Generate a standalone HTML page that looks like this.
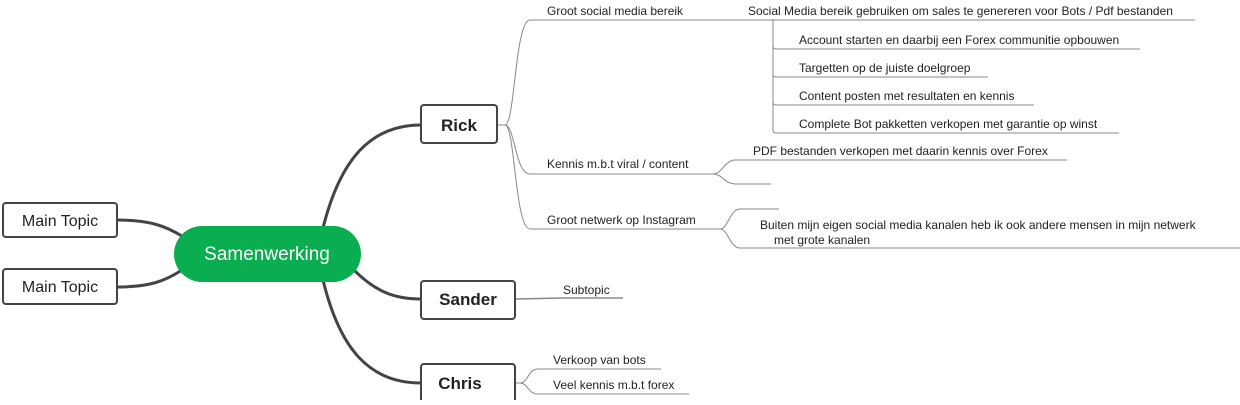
<!DOCTYPE html>
<html><head><meta charset="utf-8"><style>
body{margin:0;width:1240px;height:400px;background:#fff;overflow:hidden;font-family:"Liberation Sans",sans-serif}
</style></head><body>
<svg width="1240" height="400" xmlns="http://www.w3.org/2000/svg" font-family="Liberation Sans, sans-serif">
<g fill="none" stroke="#444" stroke-width="3">
<path d="M323,228 C340,160 370,125 421,125"/>
<path d="M352,268 C375,292 395,299 421,299"/>
<path d="M323,280 C340,350 370,383 421,383"/>
<path d="M117,220 C150,220 165,226 182,236"/>
<path d="M117,287 C150,287 165,281 182,270"/>
</g>
<g fill="none" stroke="#888" stroke-width="1">
<path d="M497,125 L505,125 C515,125 515,20 530,20 L1195,20"/>
<path d="M505,125 C515,125 515,174 530,174 L713,174"/>
<path d="M505,125 C515,125 515,229 530,229 L720,229"/>
<path d="M773,20 L773,130 Q773,133 776,133 L1119,133"/>
<path d="M773,46 Q773,49 776,49 L1140,49"/>
<path d="M773,74 Q773,77 776,77 L988,77"/>
<path d="M773,102 Q773,105 776,105 L1034,105"/>
<path d="M713,174 C722,174 725,160 735,160 L1067,160"/>
<path d="M713,174 C722,174 725,184 735,184 L771,184"/>
<path d="M720,229 C728,229 730,209 740,209 L779,209"/>
<path d="M720,229 C728,229 730,248 740,248 L1240,248"/>
<path d="M515,299 L563,298 L623,298" stroke-width="1.5"/>
<path d="M515,383 L520,383 C528,383 528,369 538,369 L661,369"/>
<path d="M520,383 C528,383 528,394 538,394 L689,394"/>
</g>
<rect x="174" y="226" width="187" height="56" rx="28" fill="#0aad4f"/>
<text x="267" y="260" font-size="19" fill="#fff" text-anchor="middle">Samenwerking</text>
<g fill="#fff" stroke="#444" stroke-width="2">
<rect x="3" y="203" width="114" height="34" rx="3"/>
<rect x="3" y="269" width="114" height="35" rx="3"/>
<rect x="421" y="105" width="76" height="38" rx="3"/>
<rect x="421" y="281" width="94" height="38" rx="3"/>
<rect x="421" y="364" width="94" height="40" rx="3"/>
</g>
<g font-size="16" fill="#222" text-anchor="middle">
<text x="60" y="226">Main Topic</text>
<text x="60" y="292">Main Topic</text>
</g>
<g font-size="17" font-weight="bold" fill="#222" text-anchor="middle">
<text x="459" y="131">Rick</text>
<text x="468" y="305">Sander</text>
<text x="460" y="389">Chris</text>
</g>
<g font-size="12" fill="#222">
<text x="547" y="15">Groot social media bereik</text>
<text x="748" y="15">Social Media bereik gebruiken om sales te genereren voor Bots / Pdf bestanden</text>
<text x="799" y="44">Account starten en daarbij een Forex communitie opbouwen</text>
<text x="799" y="72">Targetten op de juiste doelgroep</text>
<text x="799" y="100">Content posten met resultaten en kennis</text>
<text x="799" y="128">Complete Bot pakketten verkopen met garantie op winst</text>
<text x="547" y="168">Kennis m.b.t viral / content</text>
<text x="753" y="155">PDF bestanden verkopen met daarin kennis over Forex</text>
<text x="547" y="224">Groot netwerk op Instagram</text>
<text x="760" y="229">Buiten mijn eigen social media kanalen heb ik ook andere mensen in mijn netwerk</text>
<text x="774" y="244">met grote kanalen</text>
<text x="563" y="294">Subtopic</text>
<text x="553" y="364">Verkoop van bots</text>
<text x="553" y="389">Veel kennis m.b.t forex</text>
</g>
</svg>
</body></html>
